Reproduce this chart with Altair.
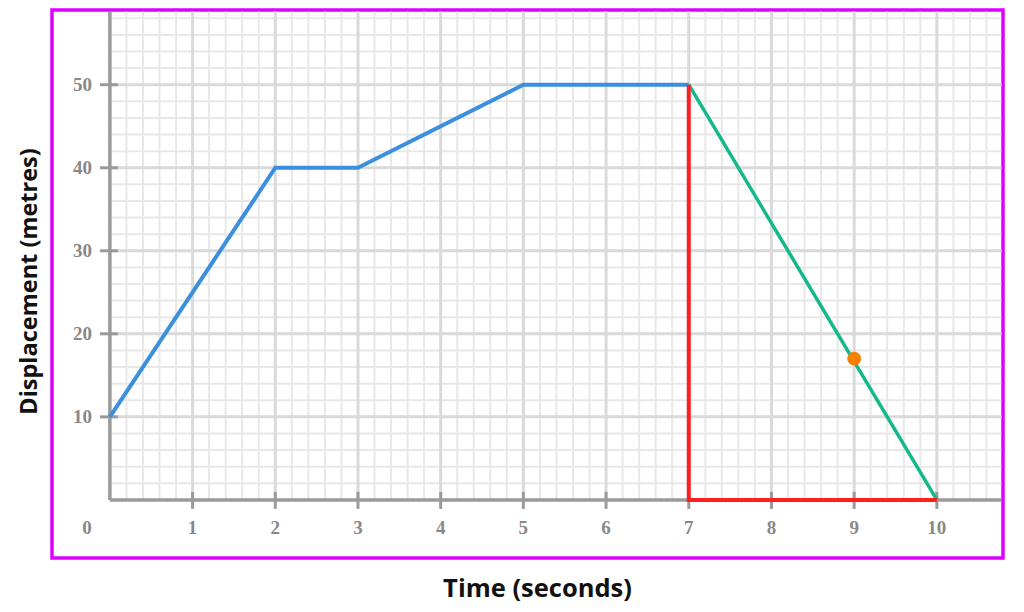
import altair as alt
import pandas as pd

# ---- series data ----
time_s = [0, 2, 3, 5, 7]
disp_m = [10, 40, 40, 50, 50]
green_t = [7, 10]
green_d = [50, 0]
red_t = [7, 7, 10]
red_d = [50, 0, 0]
red_order = [0, 1, 2]
point_t = [9]
point_d = [17]

# ---- ticks / grid ----
x_tick_vals = [1, 2, 3, 4, 5, 6, 7, 8, 9, 10]
x_tick_text = ["1", "2", "3", "4", "5", "6", "7", "8", "9", "10"]
y_tick_vals = [10, 20, 30, 40, 50]
y_tick_text = ["10", "20", "30", "40", "50"]
x_minor = [round(i * 0.2, 1) for i in range(1, 54)]
y_minor = list(range(2, 60, 2))
x_major = x_tick_vals
y_major = y_tick_vals

X_MIN, X_MAX = -0.7, 10.8
Y_MIN, Y_MAX = -7, 59
X_IN, Y_IN = 10.78, 58.8   # just inside the frame

xs = alt.Scale(domain=[X_MIN, X_MAX], nice=False, zero=False)
ys = alt.Scale(domain=[Y_MIN, Y_MAX], nice=False, zero=False)

MAGENTA = "#DD00FF"
AXIS_GRAY = "#9a9a9a"
LABEL_GRAY = "#888888"


def xf(f):
    return alt.X(f, type="quantitative", scale=xs)


def yf(f):
    return alt.Y(f, type="quantitative", scale=ys)


def xd(v):
    return alt.XDatum(v, scale=xs)


def yd(v):
    return alt.YDatum(v, scale=ys)


one = pd.DataFrame({"a": [0]})

# grid
vminor = alt.Chart(pd.DataFrame({"x": x_minor})).mark_rule(color="#e8e8e8", strokeWidth=2).encode(
    x=xf("x"), y=yd(0), y2=alt.Y2Datum(Y_IN))
hminor = alt.Chart(pd.DataFrame({"y": y_minor})).mark_rule(color="#e8e8e8", strokeWidth=2).encode(
    y=yf("y"), x=xd(0), x2=alt.X2Datum(X_IN))
vmajor = alt.Chart(pd.DataFrame({"x": x_major})).mark_rule(color="#dadada", strokeWidth=3).encode(
    x=xf("x"), y=yd(0), y2=alt.Y2Datum(Y_IN))
hmajor = alt.Chart(pd.DataFrame({"y": y_major})).mark_rule(color="#dadada", strokeWidth=3).encode(
    y=yf("y"), x=xd(0), x2=alt.X2Datum(X_IN))

# axis lines
yaxis_line = alt.Chart(one).mark_rule(color=AXIS_GRAY, strokeWidth=3.5).encode(
    x=xd(0), y=yd(0), y2=alt.Y2Datum(Y_IN))
xaxis_line = alt.Chart(one).mark_rule(color=AXIS_GRAY, strokeWidth=3.5).encode(
    y=yd(0), x=xd(0), x2=alt.X2Datum(X_IN))

# ticks
xticks = alt.Chart(pd.DataFrame({"x": x_tick_vals})).mark_rule(
    color=AXIS_GRAY, strokeWidth=3, yOffset=-8, y2Offset=9).encode(
    x=xf("x"), y=yd(0), y2=alt.Y2Datum(0))
yticks = alt.Chart(pd.DataFrame({"y": y_tick_vals})).mark_rule(
    color=AXIS_GRAY, strokeWidth=3, xOffset=-10, x2Offset=8).encode(
    y=yf("y"), x=xd(0), x2=alt.X2Datum(0))

# tick labels
lab_style = dict(font="Liberation Serif", fontWeight="bold", fontSize=19, color=LABEL_GRAY,
                 baseline="middle")
xlabels = alt.Chart(pd.DataFrame({"x": x_tick_vals, "t": x_tick_text})).mark_text(
    align="center", dy=28, **lab_style).encode(
    x=xf("x"), y=yd(0), text="t:N")
zero_label = alt.Chart(pd.DataFrame({"x": [0], "t": ["0"]})).mark_text(
    align="center", dy=28, dx=-23, **lab_style).encode(
    x=xf("x"), y=yd(0), text="t:N")
ylabels = alt.Chart(pd.DataFrame({"y": y_tick_vals, "t": y_tick_text})).mark_text(
    align="right", dx=-18, **lab_style).encode(
    y=yf("y"), x=xd(0), text="t:N")

# series
blue = alt.Chart(pd.DataFrame({"t": time_s, "d": disp_m})).mark_line(
    color="#3C8FDD", strokeWidth=4).encode(
    x=alt.X("t", type="quantitative", scale=xs,
            axis=alt.Axis(title="Time (seconds)", titlePadding=18, titleX=485,
                          titleFontSize=25.5)),
    y=alt.Y("d", type="quantitative", scale=ys,
            axis=alt.Axis(title="Displacement (metres)", titlePadding=11, titleY=271,
                          titleFontSize=23.5)),
)
green = alt.Chart(pd.DataFrame({"t": green_t, "d": green_d})).mark_line(
    color="#14B88B", strokeWidth=3.5).encode(x=xf("t"), y=yf("d"))
red = alt.Chart(pd.DataFrame({"t": red_t, "d": red_d, "o": red_order})).mark_line(
    color="#FF1E1E", strokeWidth=4).encode(x=xf("t"), y=yf("d"), order="o:Q")
point = alt.Chart(pd.DataFrame({"t": point_t, "d": point_d})).mark_circle(
    color="#F57F00", opacity=1, size=190).encode(x=xf("t"), y=yf("d"))

chart = alt.layer(
    vminor, hminor, vmajor, hmajor, yaxis_line, xaxis_line, xticks, yticks,
    xlabels, zero_label, ylabels, blue, green, red, point
).properties(
    width=951, height=548,
    padding={"left": 44, "top": 2, "right": 13, "bottom": 46},
    autosize="none",
).configure_view(
    stroke=MAGENTA, strokeWidth=3.5
).configure_axis(
    labels=False, ticks=False, domain=False, grid=False,
    titleFont="Open Sans", titleFontWeight="bold", titleColor="#111111",
)

chart.save("out.html", embed_options={"renderer": "svg", "actions": False})
